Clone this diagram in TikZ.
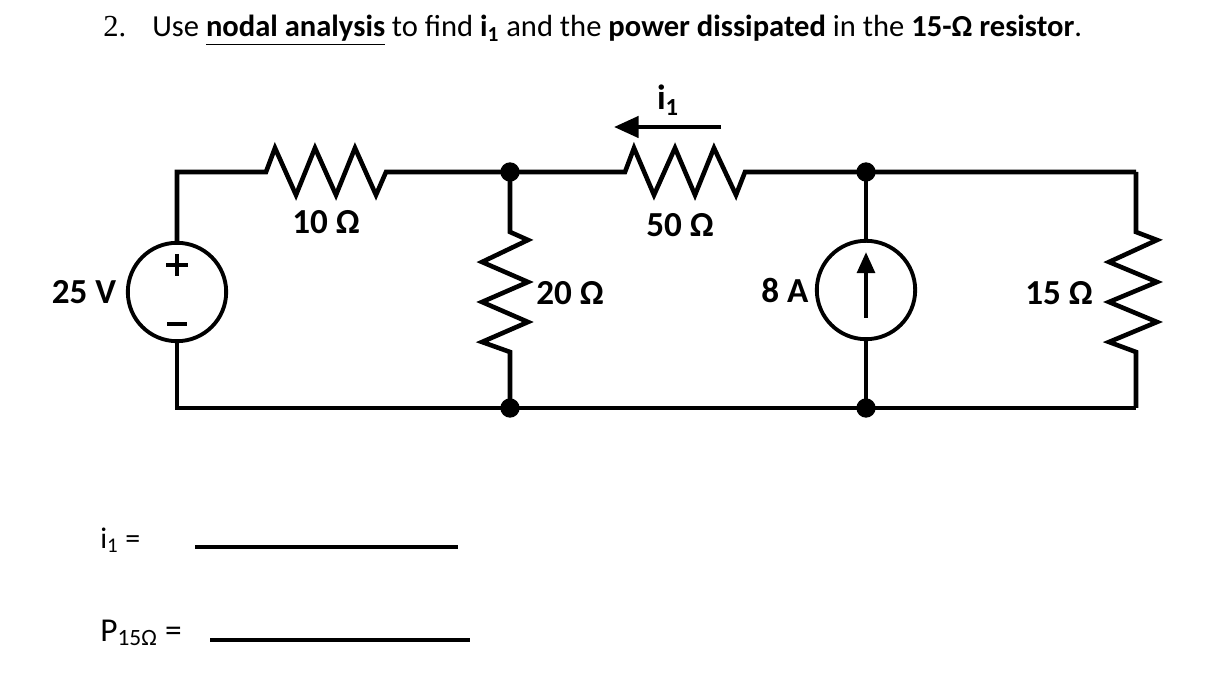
\documentclass[tikz,border=0pt]{standalone}
\usepackage{fontspec}
\setmainfont{Carlito}
\newfontfamily\serifnum{Liberation Serif}
\usetikzlibrary{arrows.meta}
\begin{document}
\begin{tikzpicture}[x=0.02cm,y=-0.02cm,
  wire/.style={line width=2.6pt,line join=miter},
  dot/.style={circle,fill=black,inner sep=0pt,minimum size=11pt},
  src/.style={circle,draw,line width=2.2pt,minimum size=56pt,inner sep=0pt},
  lab/.style={font=\fontsize{20}{22}\selectfont\bfseries,inner sep=0pt},
  txt/.style={font=\fontsize{17.4}{19}\selectfont,inner sep=0pt,anchor=base west}]
\useasboundingbox (0,0) rectangle (1214,692);
% title
\node[txt,font=\serifnum\fontsize{17.4}{19}\selectfont] (num) at (103,37) {2.};
\node[txt] (title) at (152,37) {Use \textbf{\underline{nodal analysis}} to find \textbf{i\textsubscript{1}} and the \textbf{power dissipated} in the \textbf{15-Ω resistor}.};
% nodes
\node[dot] (nt1) at (510,172) {};
\node[dot] (nt2) at (866,172) {};
\node[dot] (nb1) at (510,408) {};
\node[dot] (nb2) at (866,408) {};
\node[src] (vs) at (177,292) {};
\node[src] (cs) at (866,290) {};
\coordinate (tl) at (177,172);
\coordinate (bl) at (177,408);
\coordinate (tr) at (1136,172);
\coordinate (br) at (1136,408);
% wires
\draw[wire] (vs) -- (tl) -- (266,172) -- (275,148) -- (296,195) -- (315,148) -- (336,195) -- (355,148) -- (376,195) -- (386,172) -- (nt1.center);
\draw[wire] (nt1.center) -- (625,172) -- (634,148) -- (654,195) -- (675,148) -- (695,195) -- (714,148) -- (736,195) -- (745,172) -- (nt2.center) -- (tr);
\draw[wire] (tr) -- (1136,232) -- (1157,240) -- (1109,262) -- (1157,282) -- (1109,302) -- (1157,322) -- (1109,342) -- (1136,352) -- (br);
\draw[wire] (nt1.center) -- (510,232) -- (528,240) -- (482,262) -- (528,282) -- (482,302) -- (528,322) -- (482,342) -- (510,352) -- (nb1.center);
\draw[wire] (vs) -- (bl) -- (nb1.center) -- (nb2.center) -- (br);
\draw[wire] (nt2.center) -- (cs);
\draw[wire] (nb2.center) -- (cs);
% source symbols
\draw[line width=2.4pt] (177,254) -- (177,276) (166,265) -- (188,265);
\draw[line width=2.4pt] (167,324) -- (187,324);
\draw[line width=2.4pt,-{Triangle[length=12pt,width=10pt]}] (866,318) -- (866,252);
% current arrow
\coordinate (ia) at (721,127);
\coordinate (ib) at (614,127);
\draw[line width=2.4pt,-{Triangle[length=14pt,width=12pt]}] (ia) -- (ib);
% labels
\node[lab] (li) at (668,100) {i\textsubscript{1}};
\node[lab] (l10) at (326,222) {10 Ω};
\node[lab] (l50) at (680,225) {50 Ω};
\node[lab] (l20) at (570,293) {20 Ω};
\node[lab] (l15) at (1059,293) {15 Ω};
\node[lab] (l8) at (785,290) {8 A};
\node[lab] (l25) at (84,292) {25 V};
% answers
\node[txt,font=\fontsize{17}{19}\selectfont] (a1) at (100,548) {i\textsubscript{1} =};
\node[txt,font=\fontsize{19}{21}\selectfont] (a2) at (100,641) {P\textsubscript{15Ω} =};
\draw[line width=1.8pt] (195,547) -- (458,547);
\draw[line width=1.8pt] (210,640) -- (470,640);
\end{tikzpicture}
\end{document}
